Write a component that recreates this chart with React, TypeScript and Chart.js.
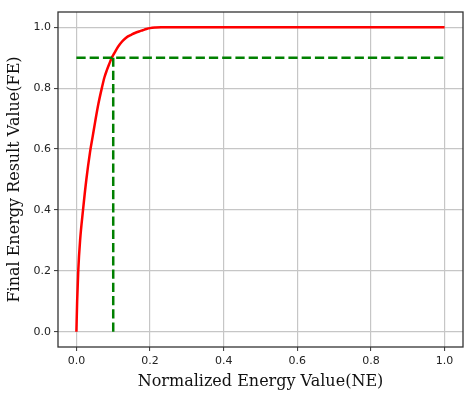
import React, { useEffect, useRef } from "react";
import { Chart, registerables } from "chart.js";

Chart.register(...registerables);

const neValues = [0, 0.002, 0.005, 0.01, 0.018, 0.027, 0.037, 0.044, 0.051, 0.06, 0.069, 0.076, 0.083, 0.09, 0.096, 0.103, 0.11, 0.118, 0.127, 0.14, 0.15, 0.159, 0.17, 0.18, 0.19, 0.2, 0.215, 0.23, 0.26, 0.3, 0.4, 0.5, 0.6, 0.7, 0.8, 0.9, 1.0];
const feValues = [0, 0.1, 0.2, 0.3, 0.4, 0.5, 0.59, 0.64, 0.69, 0.75, 0.8, 0.835, 0.86, 0.882, 0.9, 0.915, 0.93, 0.944, 0.957, 0.97, 0.976, 0.981, 0.986, 0.99, 0.994, 0.997, 0.999, 1.0, 1.0, 1.0, 1.0, 1.0, 1.0, 1.0, 1.0, 1.0, 1.0];

const thresholdX = 0.1;
const thresholdY = 0.9;
const tickValues = [0, 0.2, 0.4, 0.6, 0.8, 1.0];

const frame = {
  id: "frame",
  afterDraw(chart: any) {
    const { ctx, chartArea } = chart;
    ctx.save();
    ctx.strokeStyle = "#333";
    ctx.lineWidth = 1.3;
    ctx.strokeRect(chartArea.left, chartArea.top, chartArea.right - chartArea.left, chartArea.bottom - chartArea.top);
    ctx.restore();
  },
};

export default function App() {
  const ref = useRef<HTMLCanvasElement>(null);
  useEffect(() => {
    document.body.style.margin = "0";
    const tickFont = { family: "DejaVu Sans", size: 11 };
    const titleFont = { family: "DejaVu Serif", size: 16 };
    const setTicks = (scale: any) => {
      scale.ticks = tickValues.map((v) => ({ value: v }));
    };
    const gridOpts = { color: "#c6c6c6", lineWidth: 1.2, drawTicks: true, tickLength: 4, tickColor: "#333", tickWidth: 1 };
    const chart = new Chart(ref.current!, {
      type: "scatter",
      data: {
        datasets: [
          {
            data: neValues.map((x, i) => ({ x, y: feValues[i] })),
            showLine: true,
            borderColor: "#ff0000",
            borderWidth: 2.5,
            pointRadius: 0,
            cubicInterpolationMode: "monotone",
            order: 1,
          } as any,
          {
            data: [{ x: 0, y: thresholdY }, { x: 1.0, y: thresholdY }],
            showLine: true,
            borderColor: "#008000",
            borderWidth: 2.5,
            borderDash: [9.25, 4],
            pointRadius: 0,
            order: 0,
          },
          {
            data: [{ x: thresholdX, y: 0 }, { x: thresholdX, y: thresholdY }],
            showLine: true,
            borderColor: "#008000",
            borderWidth: 2.5,
            borderDash: [9.25, 4],
            pointRadius: 0,
            order: 0,
          },
        ],
      },
      options: {
        responsive: false,
        animation: false,
        devicePixelRatio: 1,
        layout: { padding: { top: 12, right: 11, left: 0, bottom: 0 } },
        plugins: { legend: { display: false }, tooltip: { enabled: false } },
        scales: {
          x: {
            type: "linear",
            min: -0.05,
            max: 1.05,
            afterBuildTicks: setTicks,
            afterFit: (s: any) => { s.height = 50; },
            border: { display: false },
            grid: gridOpts,
            ticks: { font: tickFont, color: "#222", padding: 4, maxRotation: 0, callback: (v: any) => Number(v).toFixed(1) },
            title: { display: true, text: "Normalized Energy Value(NE)", font: titleFont, color: "#111", padding: { top: 4, bottom: 6 } },
          },
          y: {
            type: "linear",
            min: -0.05,
            max: 1.05,
            afterBuildTicks: setTicks,
            afterFit: (s: any) => { s.width = 58; },
            border: { display: false },
            grid: gridOpts,
            ticks: { font: tickFont, color: "#222", padding: 3, callback: (v: any) => Number(v).toFixed(1) },
            title: { display: true, text: "Final Energy Result Value(FE)", font: titleFont, color: "#111", padding: { top: 5, bottom: 4 } },
          },
        },
      },
      plugins: [frame],
    } as any);
    return () => chart.destroy();
  }, []);
  return (
    <div style={{ width: 474, height: 397, background: "#fff" }}>
      <canvas ref={ref} width={474} height={397} style={{ display: "block" }} />
    </div>
  );
}
